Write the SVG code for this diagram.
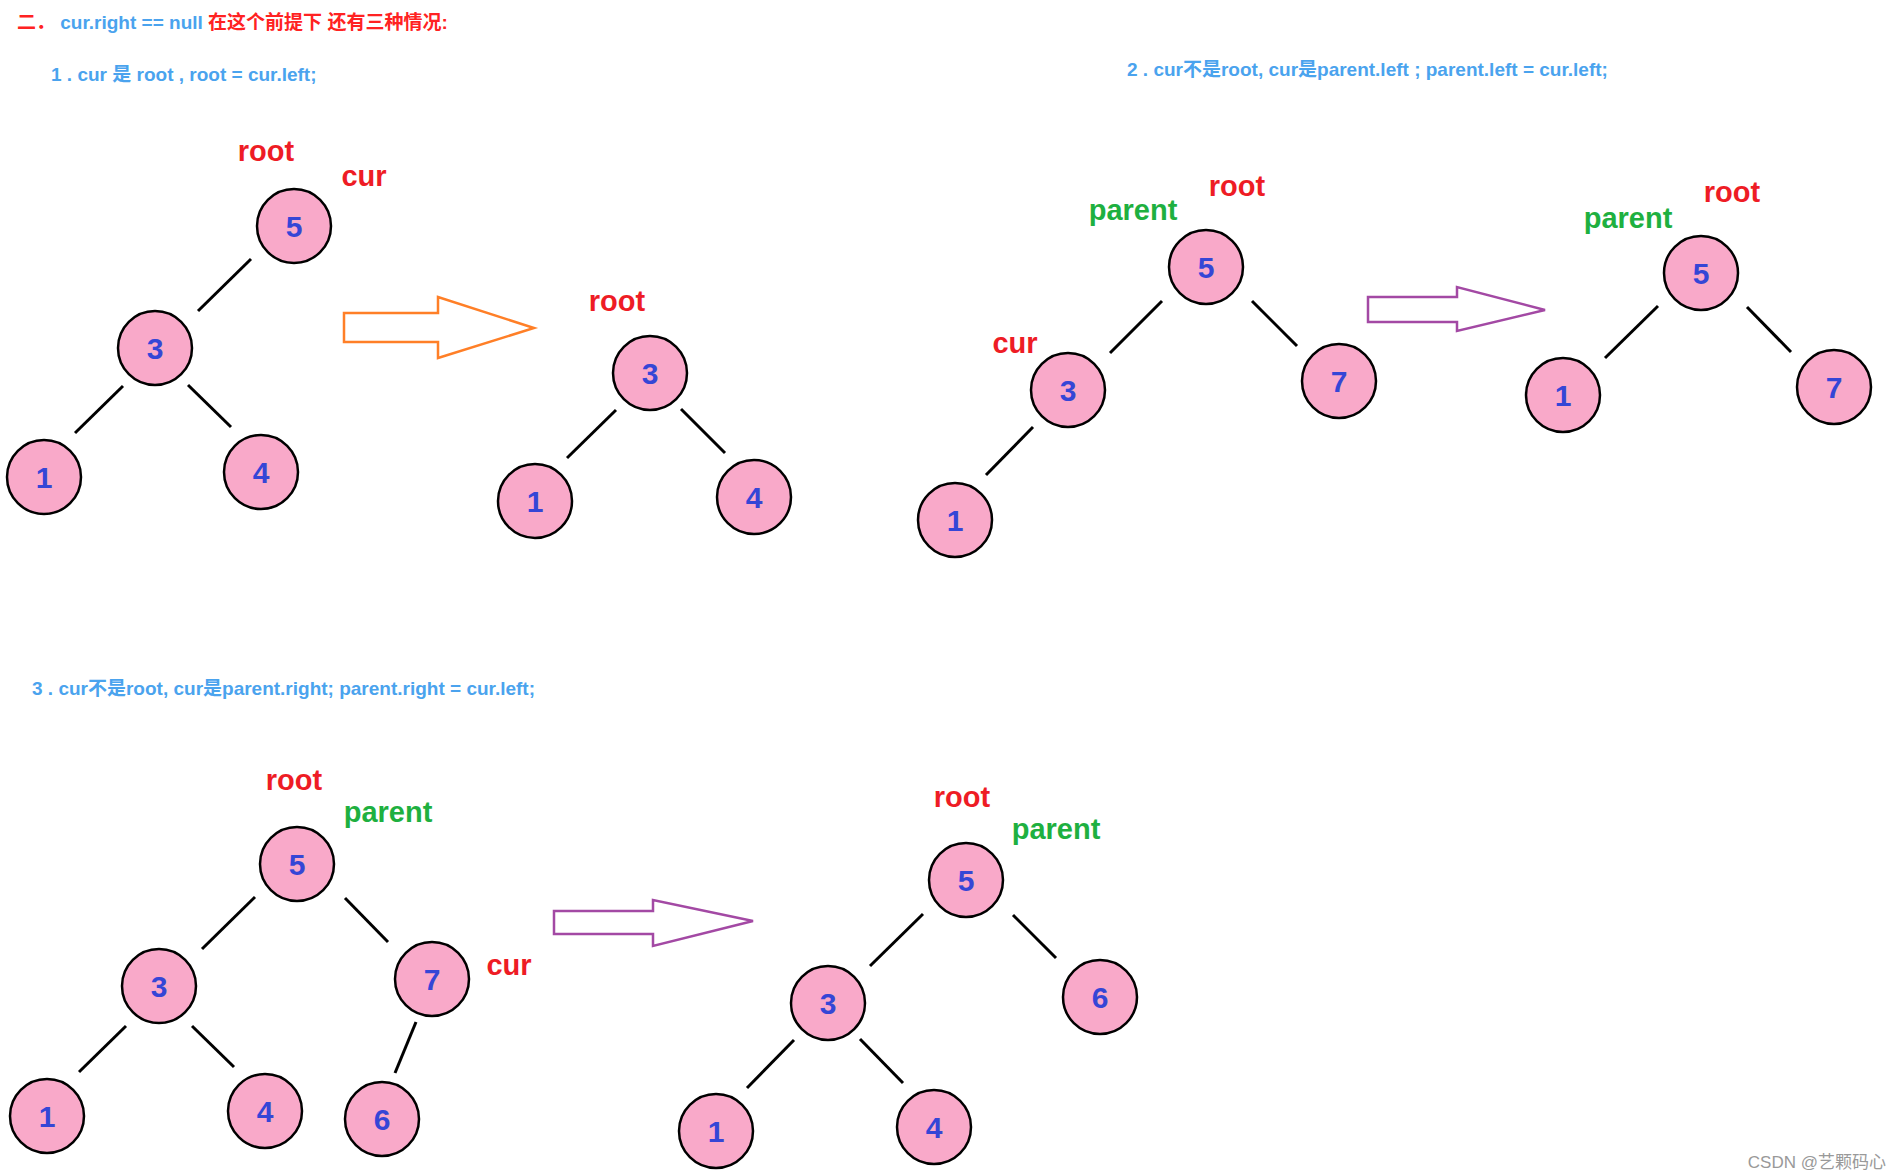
<svg xmlns="http://www.w3.org/2000/svg" width="1894" height="1175" viewBox="0 0 1894 1175">
<style>
.n circle{fill:#f9a9c9;stroke:#000;stroke-width:2.5}
.n text{font:bold 30px "Liberation Sans",sans-serif;fill:#3546d6;text-anchor:middle;dominant-baseline:central}
#edges line{stroke:#000;stroke-width:3}
.r{font:bold 29px "Liberation Sans",sans-serif;fill:#ee1c25;text-anchor:middle}
.g{font:bold 29px "Liberation Sans",sans-serif;fill:#1eb040;text-anchor:middle}
.b{font:bold 19px "Liberation Sans","Noto Sans CJK SC",sans-serif;fill:#4aa3ee}
.hr{fill:#f22}
</style>
<rect width="1894" height="1175" fill="#fff"/>
<text x="17" y="29" class="b"><tspan class="hr">二．</tspan>  cur.right == null <tspan class="hr">在这个前提下 还有三种情况:</tspan></text>
<text x="51" y="81" class="b">1 . cur 是 root , root = cur.left;</text>
<text x="1127" y="76" class="b">2 . cur不是root, cur是parent.left ; parent.left = cur.left;</text>
<text x="32" y="695" class="b">3 . cur不是root,  cur是parent.right; parent.right = cur.left;</text>
<g id="edges">
<line x1="251" y1="259" x2="198" y2="311"/><line x1="123" y1="386" x2="75" y2="433"/><line x1="188" y1="385" x2="231" y2="427"/>
<line x1="616" y1="410" x2="567" y2="458"/><line x1="681" y1="409" x2="725" y2="453"/>
<line x1="1162" y1="301" x2="1110" y2="353"/><line x1="1252" y1="301" x2="1297" y2="346"/><line x1="1033" y1="427" x2="986" y2="475"/>
<line x1="1658" y1="306" x2="1605" y2="358"/><line x1="1747" y1="307" x2="1791" y2="352"/>
<line x1="255" y1="897" x2="202" y2="949"/><line x1="345" y1="898" x2="388" y2="942"/><line x1="126" y1="1026" x2="79" y2="1072"/><line x1="192" y1="1026" x2="234" y2="1067"/><line x1="416" y1="1022" x2="395" y2="1073"/>
<line x1="923" y1="914" x2="870" y2="966"/><line x1="1013" y1="915" x2="1056" y2="958"/><line x1="794" y1="1040" x2="747" y2="1088"/><line x1="860" y1="1039" x2="903" y2="1083"/>
<polygon points="344,313 438,313 438,297 534,328 438,358 438,342 344,342" fill="#fff" stroke="#ff7f27" stroke-width="2.5"/>
<polygon points="1368,297 1457,297 1457,287 1545,310 1457,331 1457,322 1368,322" fill="#fff" stroke="#a349a4" stroke-width="2.5"/>
<polygon points="554,911 653,911 653,900 753,921 653,946 653,934 554,934" fill="#fff" stroke="#a349a4" stroke-width="2.5"/>
</g>
<text x="266" y="161" class="r">root</text><text x="364" y="186" class="r">cur</text>
<text x="617" y="311" class="r">root</text>
<text x="1237" y="196" class="r">root</text><text x="1133" y="220" class="g">parent</text><text x="1015" y="353" class="r">cur</text>
<text x="1732" y="202" class="r">root</text><text x="1628" y="228" class="g">parent</text>
<text x="294" y="790" class="r">root</text><text x="388" y="822" class="g">parent</text><text x="509" y="975" class="r">cur</text>
<text x="962" y="807" class="r">root</text><text x="1056" y="839" class="g">parent</text>
<g id="t1n5" class="n"><circle cx="294" cy="226" r="37"/><text x="294" y="226">5</text></g>
<g id="t1n3" class="n"><circle cx="155" cy="348" r="37"/><text x="155" y="348">3</text></g>
<g id="t1n1" class="n"><circle cx="44" cy="477" r="37"/><text x="44" y="477">1</text></g>
<g id="t1n4" class="n"><circle cx="261" cy="472" r="37"/><text x="261" y="472">4</text></g>
<g id="t2n3" class="n"><circle cx="650" cy="373" r="37"/><text x="650" y="373">3</text></g>
<g id="t2n1" class="n"><circle cx="535" cy="501" r="37"/><text x="535" y="501">1</text></g>
<g id="t2n4" class="n"><circle cx="754" cy="497" r="37"/><text x="754" y="497">4</text></g>
<g id="t3n5" class="n"><circle cx="1206" cy="267" r="37"/><text x="1206" y="267">5</text></g>
<g id="t3n3" class="n"><circle cx="1068" cy="390" r="37"/><text x="1068" y="390">3</text></g>
<g id="t3n7" class="n"><circle cx="1339" cy="381" r="37"/><text x="1339" y="381">7</text></g>
<g id="t3n1" class="n"><circle cx="955" cy="520" r="37"/><text x="955" y="520">1</text></g>
<g id="t4n5" class="n"><circle cx="1701" cy="273" r="37"/><text x="1701" y="273">5</text></g>
<g id="t4n1" class="n"><circle cx="1563" cy="395" r="37"/><text x="1563" y="395">1</text></g>
<g id="t4n7" class="n"><circle cx="1834" cy="387" r="37"/><text x="1834" y="387">7</text></g>
<g id="t5n5" class="n"><circle cx="297" cy="864" r="37"/><text x="297" y="864">5</text></g>
<g id="t5n3" class="n"><circle cx="159" cy="986" r="37"/><text x="159" y="986">3</text></g>
<g id="t5n7" class="n"><circle cx="432" cy="979" r="37"/><text x="432" y="979">7</text></g>
<g id="t5n1" class="n"><circle cx="47" cy="1116" r="37"/><text x="47" y="1116">1</text></g>
<g id="t5n4" class="n"><circle cx="265" cy="1111" r="37"/><text x="265" y="1111">4</text></g>
<g id="t5n6" class="n"><circle cx="382" cy="1119" r="37"/><text x="382" y="1119">6</text></g>
<g id="t6n5" class="n"><circle cx="966" cy="880" r="37"/><text x="966" y="880">5</text></g>
<g id="t6n3" class="n"><circle cx="828" cy="1003" r="37"/><text x="828" y="1003">3</text></g>
<g id="t6n6" class="n"><circle cx="1100" cy="997" r="37"/><text x="1100" y="997">6</text></g>
<g id="t6n1" class="n"><circle cx="716" cy="1131" r="37"/><text x="716" y="1131">1</text></g>
<g id="t6n4" class="n"><circle cx="934" cy="1127" r="37"/><text x="934" y="1127">4</text></g>
<text x="1886" y="1168" text-anchor="end" style="font:17px 'Liberation Sans','Noto Sans CJK SC',sans-serif;fill:#999">CSDN @艺颗码心</text>
</svg>
